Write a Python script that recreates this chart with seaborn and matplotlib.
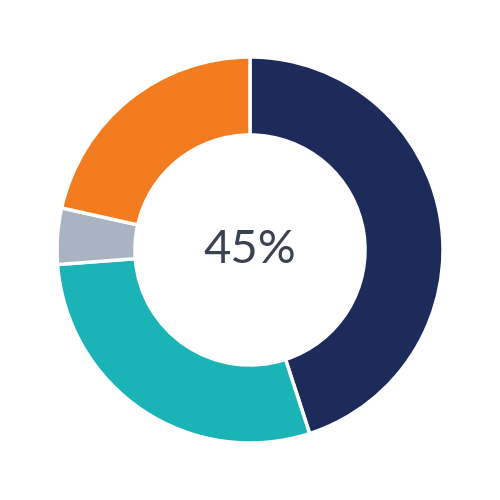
import matplotlib
matplotlib.use("Agg")
import matplotlib.pyplot as plt
import seaborn as sns

# slice shares, clockwise from 12 o'clock
segments = ["Navy", "Teal", "Gray", "Orange"]
shares = [45, 28.8, 4.7, 21.5]
colors = ["#1c2b59", "#1ab4b7", "#a9b3c1", "#f47c20"]
center_label = "45%"

sns.set_theme(style="white")
plt.rcParams["font.family"] = ["Lato", "DejaVu Sans"]

fig = plt.figure(figsize=(5, 5), dpi=100)
ax = fig.add_axes([0, 0, 1, 1])
ax.pie(
    shares, colors=sns.color_palette(colors), startangle=90, counterclock=False,
    radius=1.0, wedgeprops=dict(width=0.404, edgecolor="white", linewidth=2.5),
)
lim = 250 / 193
ax.set_xlim(-lim, lim)
ax.set_ylim(-lim, lim)
ax.set_aspect("equal")
ax.axis("off")
ax.text(0, 0, center_label, ha="center", va="center", fontsize=34,
        color="#3b4250", fontweight="normal")

fig.savefig("out.png", dpi=100, facecolor="white")
